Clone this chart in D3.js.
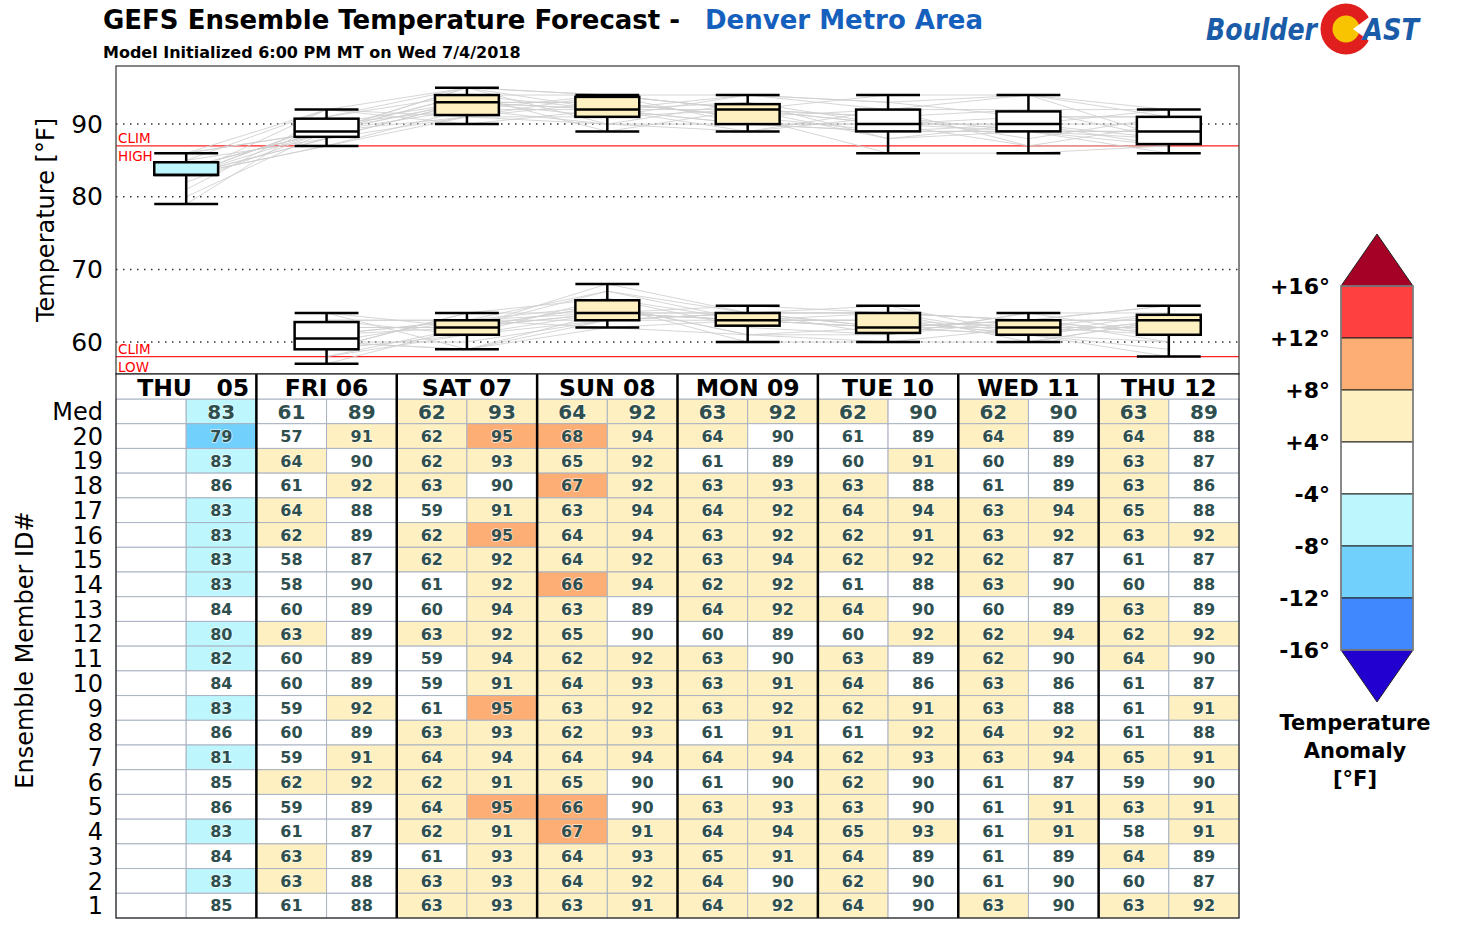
<!DOCTYPE html>
<html>
<head>
<meta charset="utf-8">
<script src="https://cdn.jsdelivr.net/npm/d3@7"></script>
<style>
body { margin: 0; background: #fff; }
svg { display: block; font-family: "DejaVu Sans", sans-serif; }
</style>
</head>
<body>
<svg id="chart" width="1458" height="937"></svg>
<script>
// forecast days
var days = ["THU   05", "FRI 06", "SAT 07", "SUN 08", "MON 09", "TUE 10", "WED 11", "THU 12"];
// member ids, top row first
var members = ["20","19","18","17","16","15","14","13","12","11","10","9","8","7","6","5","4","3","2","1"];

// daily highs for each member (rows = members 20..1, columns = days)
var highs = [
	[79,91,95,94,90,89,89,88],
	[83,90,93,92,89,91,89,87],
	[86,92,90,92,93,88,89,86],
	[83,88,91,94,92,94,94,88],
	[83,89,95,94,92,91,92,92],
	[83,87,92,92,94,92,87,87],
	[83,90,92,94,92,88,90,88],
	[84,89,94,89,92,90,89,89],
	[80,89,92,90,89,92,94,92],
	[82,89,94,92,90,89,90,90],
	[84,89,91,93,91,86,86,87],
	[83,92,95,92,92,91,88,91],
	[86,89,93,93,91,92,92,88],
	[81,91,94,94,94,93,94,91],
	[85,92,91,90,90,90,87,90],
	[86,89,95,90,93,90,91,91],
	[83,87,91,91,94,93,91,91],
	[84,89,93,93,91,89,89,89],
	[83,88,93,92,90,90,90,87],
	[85,88,93,91,92,90,90,92]
];
// daily lows (no low for the first day)
var lows = [
	[null,57,62,68,64,61,64,64],
	[null,64,62,65,61,60,60,63],
	[null,61,63,67,63,63,61,63],
	[null,64,59,63,64,64,63,65],
	[null,62,62,64,63,62,63,63],
	[null,58,62,64,63,62,62,61],
	[null,58,61,66,62,61,63,60],
	[null,60,60,63,64,64,60,63],
	[null,63,63,65,60,60,62,62],
	[null,60,59,62,63,63,62,64],
	[null,60,59,64,63,64,63,61],
	[null,59,61,63,63,62,63,61],
	[null,60,63,62,61,61,64,61],
	[null,59,64,64,64,62,63,65],
	[null,62,62,65,61,62,61,59],
	[null,59,64,66,63,63,61,63],
	[null,61,62,67,64,65,61,58],
	[null,63,61,64,65,64,61,64],
	[null,63,63,64,64,62,61,60],
	[null,61,63,63,64,64,63,63]
];
var medHigh = [83,89,93,92,92,90,90,89];
var medLow = [null,61,62,64,63,62,62,63];

var climHigh = 87;
var climLow = 58;

var yTicks = [60,70,80,90];
var anomLabels = ["+16°","+12°","+8°","+4°","-4°","-8°","-12°","-16°"];
var anomThresholds = [-15.5,-11.5,-7.5,-3.5,4,8,12,16];
var anomColors = ["#2200d0","#3f88fd","#72d0fc","#bdf7fd","#ffffff","#fef0c0","#fdae74","#ff4040","#a50026"];

var svg = d3.select("#chart");

var plotL = 116, plotR = 1239, plotT = 66, plotB = 374;

var x = d3.scaleBand().domain(d3.range(days.length)).range([plotL, plotR]);
var y = d3.scaleLinear().domain([55.6, 98]).range([plotB, plotT]);
var color = d3.scaleThreshold().domain(anomThresholds).range(anomColors);

function cx(i){ return x(i) + x.bandwidth() / 2; }

// percentile, (n+1)p positions
function pct(s, p){
	var n = s.length, h = (n + 1) * p, lo = Math.floor(h);
	if(lo < 1) return s[0];
	if(lo >= n) return s[n - 1];
	return s[lo - 1] + (h - lo) * (s[lo] - s[lo - 1]);
}

// ---- titles
svg.append("text").attr("x", 103).attr("y", 29)
	.style("font-size", "26px").style("font-weight", "bold")
	.text("GEFS Ensemble Temperature Forecast -");
svg.append("text").attr("x", 705).attr("y", 29)
	.style("font-size", "26px").style("font-weight", "bold").style("fill", "#1560bd")
	.text("Denver Metro Area");
svg.append("text").attr("x", 103).attr("y", 58)
	.style("font-size", "16px").style("font-weight", "bold")
	.text("Model Initialized 6:00 PM MT on Wed 7/4/2018");

// ---- logo
var logo = svg.append("g");
logo.append("text").attr("x", 1206).attr("y", 40)
	.attr("textLength", 111).attr("lengthAdjust", "spacingAndGlyphs")
	.style("font-size", "31px").style("font-weight", "bold").style("font-style", "italic")
	.style("fill", "#1b5ca8").text("Boulder");
logo.append("circle").attr("cx", 1346).attr("cy", 29).attr("r", 25.5).style("fill", "#e01e1e");
logo.append("circle").attr("cx", 1346).attr("cy", 29).attr("r", 13.5).style("fill", "#f8c400");
logo.append("path")
	.attr("d", "M1353,29 L1376,12 L1376,46 Z")
	.style("fill", "#fff");
logo.append("text").attr("x", 1363).attr("y", 40)
	.attr("textLength", 56).attr("lengthAdjust", "spacingAndGlyphs")
	.style("font-size", "31px").style("font-weight", "bold").style("font-style", "italic")
	.style("fill", "#1b5ca8").text("AST");

// ---- top plot
var plot = svg.append("g");
plot.append("defs").append("clipPath").attr("id", "clip")
	.append("rect").attr("x", plotL).attr("y", plotT).attr("width", plotR - plotL).attr("height", plotB - plotT);

plot.selectAll(".grid").data(yTicks).enter().append("line")
	.attr("x1", plotL).attr("x2", plotR)
	.attr("y1", function(d){ return y(d); }).attr("y2", function(d){ return y(d); })
	.style("stroke", "#333").style("stroke-width", 1.5).style("stroke-dasharray", "1.5,5.5");

// climatology
[climHigh, climLow].forEach(function(c){
	plot.append("line").attr("x1", plotL).attr("x2", plotR)
		.attr("y1", y(c)).attr("y2", y(c))
		.style("stroke", "#ff2020").style("stroke-width", 1.2);
});
var clab = plot.append("g").style("fill", "#ff0000").style("font-size", "13.5px");
clab.append("text").attr("x", 118).attr("y", y(climHigh) - 3).text("CLIM");
clab.append("text").attr("x", 118).attr("y", y(climHigh) + 15).text("HIGH");
clab.append("text").attr("x", 118).attr("y", y(climLow) - 3).text("CLIM");
clab.append("text").attr("x", 118).attr("y", y(climLow) + 15).text("LOW");

// member trajectories
var line = d3.line()
	.defined(function(d){ return d != null; })
	.x(function(d, i){ return cx(i); })
	.y(function(d){ return y(d); });
var traces = plot.append("g").attr("clip-path", "url(#clip)");
highs.concat(lows).forEach(function(row){
	traces.append("path").attr("d", line(row))
		.style("fill", "none").style("stroke", "#cfcfcf").style("stroke-width", 1).style("opacity", 0.85);
});

// boxes
var boxW = x.bandwidth() * 0.455;
function drawBox(vals, i, med){
	vals = vals.filter(function(v){ return v != null; }).sort(d3.ascending);
	if(vals.length == 0) return;
	var q1 = pct(vals, 0.25), q2 = pct(vals, 0.5), q3 = pct(vals, 0.75);
	var lo = d3.min(vals), hi = d3.max(vals);
	var g = plot.append("g").style("stroke", "#000").style("stroke-width", 2.5);
	var c = cx(i);
	g.append("line").attr("x1", c).attr("x2", c).attr("y1", y(hi)).attr("y2", y(q3));
	g.append("line").attr("x1", c).attr("x2", c).attr("y1", y(q1)).attr("y2", y(lo));
	g.append("line").attr("x1", c - boxW/2).attr("x2", c + boxW/2).attr("y1", y(hi)).attr("y2", y(hi));
	g.append("line").attr("x1", c - boxW/2).attr("x2", c + boxW/2).attr("y1", y(lo)).attr("y2", y(lo));
	g.append("rect").attr("x", c - boxW/2).attr("width", boxW)
		.attr("y", y(q3)).attr("height", Math.max(y(q1) - y(q3), 0.5))
		.style("fill", color(med));
	g.append("line").attr("x1", c - boxW/2).attr("x2", c + boxW/2).attr("y1", y(q2)).attr("y2", y(q2));
}
days.forEach(function(d, i){
	drawBox(highs.map(function(r){ return r[i]; }), i, medHigh[i] - climHigh);
	if(medLow[i] != null) drawBox(lows.map(function(r){ return r[i]; }), i, medLow[i] - climLow);
});

plot.append("rect").attr("x", plotL).attr("y", plotT).attr("width", plotR - plotL).attr("height", plotB - plotT)
	.style("fill", "none").style("stroke", "#333").style("stroke-width", 1.2);

// y axis
var yAxis = svg.append("g").attr("transform", "translate(" + plotL + ",0)")
	.call(d3.axisLeft(y).tickValues(yTicks).tickSize(0).tickPadding(13));
yAxis.select(".domain").remove();
yAxis.selectAll("text").style("font-size", "25px").style("font-family", "DejaVu Sans").style("fill", "#000");

svg.append("text").attr("transform", "translate(54,220) rotate(-90)")
	.attr("text-anchor", "middle").style("font-size", "24px").text("Temperature [°F]");

// ---- table
var hdrT = 374, hdrB = 399, tblB = 918;
var rowNames = ["Med"].concat(members);
var r = d3.scaleBand().domain(rowNames).range([hdrB, tblB]);
var sub = x.bandwidth() / 2;

var tbl = svg.append("g");
var cells = [];
rowNames.forEach(function(name, ri){
	var hv = ri == 0 ? medHigh : highs[ri - 1];
	var lv = ri == 0 ? medLow : lows[ri - 1];
	days.forEach(function(d, di){
		cells.push({row: name, x: x(di), v: lv[di], a: lv[di] == null ? null : lv[di] - climLow, med: ri == 0});
		cells.push({row: name, x: x(di) + sub, v: hv[di], a: hv[di] - climHigh, med: ri == 0});
	});
});

tbl.selectAll(".cell").data(cells).enter().append("rect")
	.attr("x", function(d){ return d.x; })
	.attr("y", function(d){ return r(d.row); })
	.attr("width", sub).attr("height", r.bandwidth())
	.style("fill", function(d){ return d.a == null ? "#fff" : color(d.a); })
	.style("stroke", "#aab2c2").style("stroke-width", 1);

tbl.selectAll(".val").data(cells.filter(function(d){ return d.v != null; })).enter().append("text")
	.attr("x", function(d){ return d.x + sub / 2; })
	.attr("y", function(d){ return r(d.row) + r.bandwidth() / 2; })
	.attr("dy", "0.36em")
	.attr("text-anchor", "middle")
	.style("font-size", function(d){ return d.med ? "20px" : "16px"; })
	.style("font-weight", "bold")
	.style("fill", "#2f4f4f")
	.style("stroke", "#fff").style("stroke-width", 1.6).style("stroke-opacity", 0.7)
	.style("paint-order", "stroke")
	.text(function(d){ return d.v; });

// header
tbl.append("rect").attr("x", plotL).attr("y", hdrT).attr("width", plotR - plotL).attr("height", hdrB - hdrT)
	.style("fill", "#fff");
tbl.append("line").attr("x1", plotL).attr("x2", plotR).attr("y1", hdrB).attr("y2", hdrB)
	.style("stroke", "#aab2c2").style("stroke-width", 1);
tbl.selectAll(".day").data(days).enter().append("text")
	.attr("x", function(d, i){ return cx(i); })
	.attr("dx", function(d, i){ return i == 0 ? 7 : 0; })
	.attr("y", hdrB - 3)
	.attr("text-anchor", "middle")
	.attr("xml:space", "preserve")
	.style("white-space", "pre")
	.style("font-size", "23.5px").style("font-weight", "bold")
	.text(function(d){ return d; });

// day separators
tbl.selectAll(".sep").data(d3.range(1, days.length)).enter().append("line")
	.attr("x1", function(d){ return x(d); }).attr("x2", function(d){ return x(d); })
	.attr("y1", hdrT).attr("y2", tblB)
	.style("stroke", "#000").style("stroke-width", 2.5);

tbl.append("rect").attr("x", plotL).attr("y", hdrT).attr("width", plotR - plotL).attr("height", tblB - hdrT)
	.style("fill", "none").style("stroke", "#222").style("stroke-width", 1.2);

// row labels
svg.selectAll(".rlab").data(rowNames).enter().append("text")
	.attr("x", 103)
	.attr("y", function(d){ return r(d) + r.bandwidth() / 2; })
	.attr("dy", "0.36em")
	.attr("text-anchor", "end")
	.style("font-size", "24px")
	.text(function(d){ return d; });

svg.append("text").attr("transform", "translate(33,650) rotate(-90)")
	.attr("text-anchor", "middle").style("font-size", "24px").text("Ensemble Member ID#");

// ---- colorbar
var cbX = 1341, cbW = 72;
var cb = d3.scaleLinear().domain([16, -16]).range([286, 650]);
var bins = [16,12,8,4,-4,-8,-12];
var cbg = svg.append("g");
var binPos = d3.scaleBand().domain(d3.range(7)).range([286, 650]);
cbg.selectAll(".bin").data(bins).enter().append("rect")
	.attr("x", cbX).attr("width", cbW)
	.attr("y", function(d, i){ return binPos(i); })
	.attr("height", binPos.bandwidth())
	.style("fill", function(d, i){ return anomColors[7 - i]; })
	.style("stroke", "#222").style("stroke-width", 1);
cbg.append("path")
	.attr("d", "M" + cbX + "," + cb(16) + " L" + (cbX + cbW/2) + "," + (cb(16) - 52) + " L" + (cbX + cbW) + "," + cb(16) + " Z")
	.style("fill", anomColors[8]).style("stroke", "#222").style("stroke-width", 1);
cbg.append("path")
	.attr("d", "M" + cbX + "," + cb(-16) + " L" + (cbX + cbW/2) + "," + (cb(-16) + 52) + " L" + (cbX + cbW) + "," + cb(-16) + " Z")
	.style("fill", anomColors[0]).style("stroke", "#222").style("stroke-width", 1);
cbg.append("rect").attr("x", cbX).attr("y", 286).attr("width", cbW).attr("height", 364)
	.style("fill", "none").style("stroke", "#888").style("stroke-width", 1.5);

cbg.selectAll(".cbl").data(anomLabels).enter().append("text")
	.attr("x", 1330)
	.attr("y", function(d, i){ return 286 + i * binPos.bandwidth(); })
	.attr("dy", "0.36em")
	.attr("text-anchor", "end")
	.style("font-size", "22px").style("font-weight", "bold")
	.text(function(d){ return d; });

["Temperature", "Anomaly", "[°F]"].forEach(function(t, i){
	cbg.append("text").attr("x", 1355).attr("y", 730 + i * 28)
		.attr("text-anchor", "middle")
		.style("font-size", "21px").style("font-weight", "bold")
		.text(t);
});
</script>
</body>
</html>
